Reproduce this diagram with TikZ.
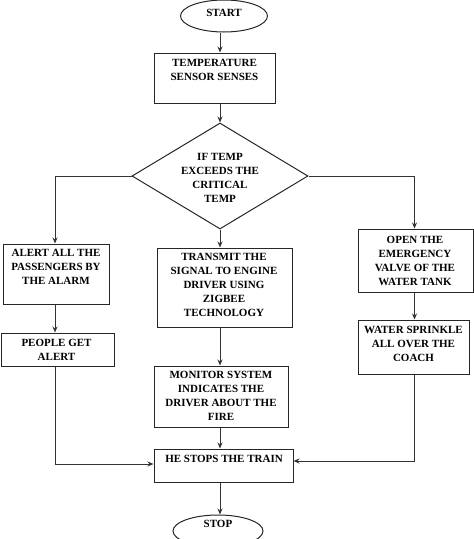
\documentclass[tikz,border=0pt]{standalone}
\usepackage{fontspec}
\setmainfont{Liberation Serif}
\usetikzlibrary{shapes.geometric,arrows.meta}
\tikzset{
  box/.style={draw=black!85, line width=1pt, rectangle, inner sep=0pt},
  oval/.style={draw=black!85, line width=1pt, ellipse, inner sep=0pt},
  dia/.style={draw=black!85, line width=1pt, diamond, inner sep=0pt, shape aspect=1.66},
  txt/.style={font=\fontsize{11}{13.9}\selectfont\bfseries, align=center, inner sep=0pt, anchor=north},
  conn/.style={draw=black!80, line width=1pt},
  arr/.style={conn, -{Stealth[length=6pt,width=5pt]}}
}
\begin{document}
\begin{tikzpicture}[x=1pt,y=-1pt]
\useasboundingbox (0,0) rectangle (474,539);
% shapes
\node[oval, minimum width=87pt, minimum height=32pt] (start) at (224,16) {};
\node[box, minimum width=121pt, minimum height=50pt] (temp) at (214.5,78) {};
\node[dia, minimum width=176pt, minimum height=106pt] (dia) at (220,176) {};
\node[box, minimum width=106pt, minimum height=60pt] (alert) at (56,274) {};
\node[box, minimum width=113pt, minimum height=33pt] (people) at (57.5,349.5) {};
\node[box, minimum width=135pt, minimum height=79pt] (transmit) at (224.5,287.5) {};
\node[box, minimum width=134pt, minimum height=61pt] (monitor) at (221,396.5) {};
\node[box, minimum width=139pt, minimum height=33pt] (stops) at (223.5,465.5) {};
\node[box, minimum width=115pt, minimum height=63pt] (open) at (415.5,260.5) {};
\node[box, minimum width=111pt, minimum height=54pt] (sprinkle) at (413.5,347) {};
\node[oval, minimum width=90pt, minimum height=32pt] (stop) at (218,531) {};
% texts (anchor north = top of capitals of first line)
\node[txt] (tstart) at (224,9.5) {START};
\node[txt] (ttemp) at (214.5,59.5) {TEMPERATURE\\SENSOR SENSES};
\node[txt] (tdia) at (220,153.5) {IF TEMP\\EXCEEDS THE\\CRITICAL\\TEMP};
\node[txt] (talert) at (56,249.5) {ALERT ALL THE\\PASSENGERS BY\\THE ALARM};
\node[txt] (tpeople) at (56.5,339.5) {PEOPLE GET\\ALERT};
\node[txt] (ttransmit) at (224,253.5) {TRANSMIT THE\\SIGNAL TO ENGINE\\DRIVER USING\\ZIGBEE\\TECHNOLOGY};
\node[txt] (tmonitor) at (221,371.5) {MONITOR SYSTEM\\INDICATES THE\\DRIVER ABOUT THE\\FIRE};
\node[txt] (tstops) at (224,455.5) {HE STOPS THE TRAIN};
\node[txt] (topen) at (415,236.5) {OPEN THE\\EMERGENCY\\VALVE OF THE\\WATER TANK};
\node[txt] (tsprinkle) at (413.5,326.5) {WATER SPRINKLE\\ALL OVER THE\\COACH};
\node[txt] (tstop) at (218,520.5) {STOP};
% connectors
\coordinate (cx) at (220,0);
\draw[arr] (start.south -| cx) -- (temp.north -| cx);
\draw[arr] (temp.south -| cx) -- (dia.north);
\draw[arr] (dia.south) -- (transmit.north -| cx);
\draw[arr] (transmit.south -| cx) -- (monitor.north -| cx);
\draw[arr] (monitor.south -| cx) -- (stops.north -| cx);
\draw[arr] (stops.south -| cx) -- (stop.north -| cx);
\coordinate (lx) at (55,0);
\coordinate (rx) at (414.5,0);
\draw[arr] (dia.west) -| (alert.north -| lx);
\draw[arr] (alert.south -| lx) -- (people.north -| lx);
\draw[arr] (people.south -| lx) |- ([yshift=1.5pt]stops.west);
\draw[arr] (dia.east) -| (open.north -| rx);
\draw[arr] (open.south -| rx) -- (sprinkle.north -| rx);
\draw[arr] (sprinkle.south -| rx) |- ([yshift=4.5pt]stops.east);
\end{tikzpicture}
\end{document}
